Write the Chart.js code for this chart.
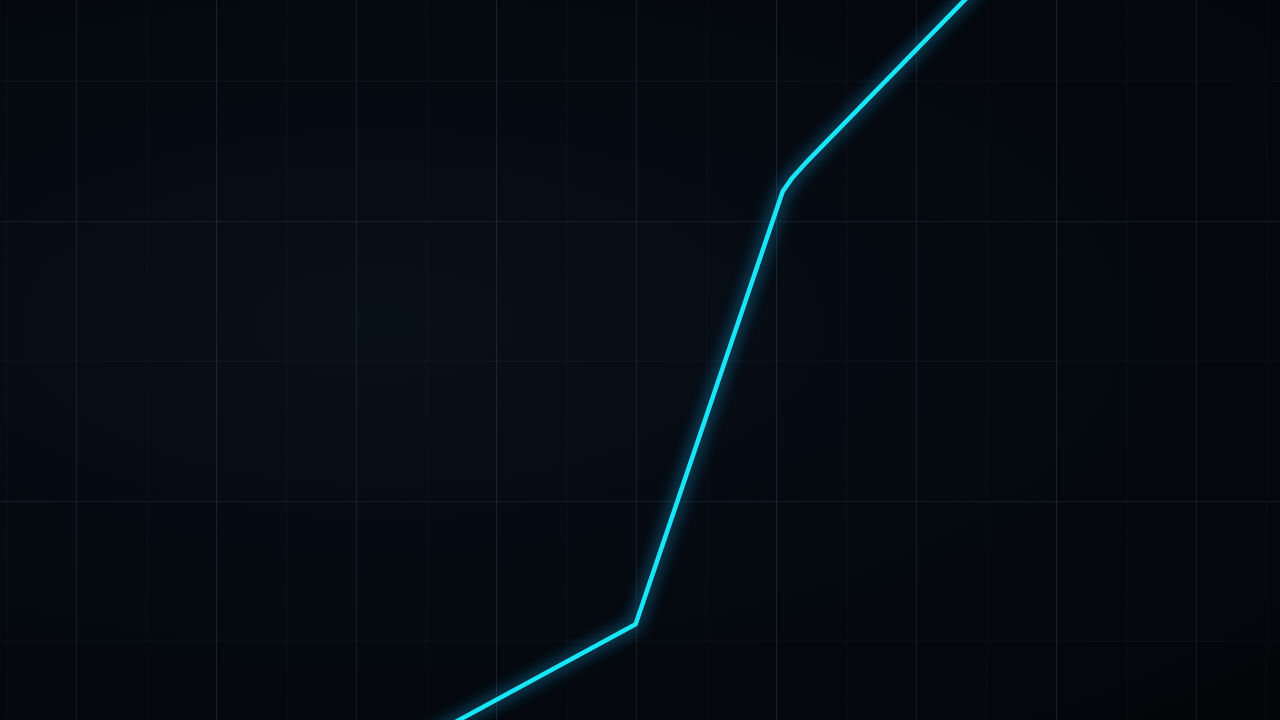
<!DOCTYPE html>
<html>
<head>
<meta charset="utf-8">
<style>
html,body{margin:0;padding:0;width:1280px;height:720px;overflow:hidden;background:#04070c;}
#wrap{position:relative;width:1280px;height:720px;background:radial-gradient(ellipse at 30% 45%, #08101a 0%, #050910 55%, #030508 100%);}
canvas{display:block;}
</style>
<script src="https://cdn.jsdelivr.net/npm/chart.js@4"></script>
</head>
<body>
<div id="wrap"><canvas id="c" width="1280" height="720"></canvas></div>
<script>
// Data (chart units: one grid cell = 1)
const xValues = [2.0, 3.99, 5.04, 5.11, 5.2, 6.81];
const yValues = [-0.96, 0.12, 3.21, 3.31, 3.41, 5.06];
const xTicks = [0, 1, 2, 3, 4, 5, 6, 7, 8];
const yTicks = [0, 1, 2, 3, 4];
const xRange = [-0.55, 8.593];
const yRange = [-0.564, 4.579];

const points = xValues.map((x, i) => ({x: x, y: yValues[i]}));

const glowPlugin = {
  id: 'glow',
  beforeDatasetDraw(chart) {
    const ctx = chart.ctx;
    ctx.save();
    ctx.shadowColor = 'rgba(20,190,255,0.95)';
    ctx.shadowBlur = 16;
  },
  afterDatasetDraw(chart) {
    chart.ctx.restore();
  }
};

new Chart(document.getElementById('c'), {
  type: 'line',
  data: {
    datasets: [{
      data: points,
      borderColor: '#18e6f6',
      borderWidth: 4.5,
      pointRadius: 0,
      tension: 0,
      borderJoinStyle: 'round',
      borderCapStyle: 'round',
      fill: false
    }]
  },
  options: {
    responsive: false,
    animation: false,
    layout: {padding: 0},
    plugins: {legend: {display: false}, tooltip: {enabled: false}},
    scales: {
      x: {
        type: 'linear',
        min: xRange[0], max: xRange[1],
        afterBuildTicks: (s) => { s.ticks = xTicks.map(v => ({value: v})); },
        ticks: {display: false},
        border: {display: false},
        grid: {color: (c) => c.index % 2 ? 'rgba(120,140,170,0.15)' : 'rgba(120,140,170,0.10)', lineWidth: 1, drawTicks: false}
      },
      xMinor: {
        type: 'linear', position: 'top',
        min: xRange[0], max: xRange[1],
        afterBuildTicks: (s) => { const t=[]; for (let v=-0.5; v<=8.5; v+=0.5) t.push({value: v}); s.ticks = t; },
        ticks: {display: false},
        border: {display: false},
        grid: {color: 'rgba(110,130,160,0.05)', lineWidth: 1, drawTicks: false}
      },
      y: {
        type: 'linear',
        min: yRange[0], max: yRange[1],
        afterBuildTicks: (s) => { s.ticks = yTicks.map(v => ({value: v})); },
        ticks: {display: false},
        border: {display: false},
        grid: {color: (c) => (c.tick && (c.tick.value === 1 || c.tick.value === 3)) ? 'rgba(120,140,170,0.13)' : 'rgba(120,140,170,0.06)', lineWidth: 1, drawTicks: false}
      }
    }
  },
  plugins: [glowPlugin]
});
</script>
</body>
</html>
